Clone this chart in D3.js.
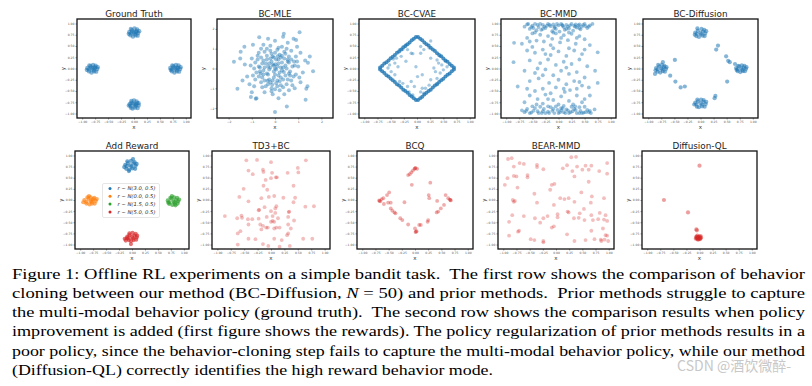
<!DOCTYPE html>
<html>
<head>
<meta charset="utf-8">
<script src="https://cdn.jsdelivr.net/npm/d3@7"></script>
<style>
  body { margin: 0; background: #fff; }
  svg { display: block; }
</style>
</head>
<body>
<div id="chart"></div>
<script>
// ---- tick labels ----
const unitTicks = [-1, -0.75, -0.5, -0.25, 0, 0.25, 0.5, 0.75, 1];
const mleTicks = [-2, -1, 0, 1, 2];

// ---- row 1: behavior cloning ----
const groundTruth = [
  [0.00,0.80],[0.05,0.83],[-0.04,0.85],[-0.06,0.78],[0.03,0.74],[0.08,0.79],[-0.09,0.81],[0.01,0.89],[-0.02,0.71],[0.06,0.87],[-0.07,0.74],[0.07,0.73],[-0.06,0.88],[0.10,0.83],[-0.10,0.77],[0.02,0.77],[-0.03,0.82],[0.04,0.81],
  [0.01,-0.80],[0.06,-0.77],[-0.05,-0.76],[-0.07,-0.83],[0.02,-0.87],[0.09,-0.82],[-0.08,-0.79],[0.00,-0.71],[-0.03,-0.89],[0.05,-0.73],[-0.06,-0.87],[0.07,-0.88],[-0.05,-0.72],[0.09,-0.77],[-0.10,-0.82],[0.03,-0.83],[-0.02,-0.78],[0.04,-0.80],
  [-0.80,0.00],[-0.75,0.03],[-0.84,0.05],[-0.87,-0.02],[-0.77,-0.06],[-0.71,-0.01],[-0.90,0.01],[-0.79,0.08],[-0.82,-0.09],[-0.74,0.06],[-0.87,-0.06],[-0.73,-0.07],[-0.86,0.07],[-0.70,0.03],[-0.91,-0.03],[-0.78,-0.03],[-0.83,0.02],[-0.76,0.01],
  [0.80,0.00],[0.85,0.02],[0.76,0.05],[0.73,-0.02],[0.83,-0.06],[0.89,-0.01],[0.70,0.01],[0.81,0.08],[0.78,-0.09],[0.86,0.07],[0.73,-0.06],[0.87,-0.07],[0.74,0.07],[0.90,0.03],[0.71,-0.03],[0.82,-0.03],[0.77,0.02],[0.84,0.01]
];

const bcMle = [
  [-1.77,0.34],[1.06,1.83],[0.38,1.75],[-0.68,1.58],[0,-2.2],[0.51,-1.92],[1.32,-1.58],[-1.62,-1.02],[1.64,-0.14],[1.42,0.29],[-1.48,0.85],[-1.32,1.10],[-1.04,-1.44],[-0.83,-1.53],[0.91,1.44],[1.35,-1.02],
  [-0.1,0.2],[0.3,-0.1],[-0.5,0.4],[0.6,0.3],[0.1,-0.6],[-0.3,-0.3],[0.8,-0.4],[-0.8,-0.2],[0.2,0.7],[-0.2,0.9],[0.5,-0.8],[-0.6,-0.7],[1.0,0.1],[-1.0,0.5],[0.0,0.0],[0.4,0.5],[-0.4,-0.9],[0.7,0.9],[-0.7,0.8],[0.2,-1.1],[-0.1,-1.3],[1.1,-0.7],[-1.2,-0.4],[0.9,0.6],[-0.9,-0.9],[0.3,1.1],[-0.5,1.2],[1.3,0.4],[-1.3,0.2],[0.05,0.45],[-0.25,-0.05],[0.45,-0.35],[-0.65,0.05],[0.15,0.25],[-0.05,-0.45],[0.65,-0.15],[-0.35,0.65],[0.35,-0.55],[-0.15,0.35],[0.85,-1.0],[-0.85,0.3],[0.55,1.3],[-0.45,-1.2],[1.2,-0.2],[-1.1,-0.8],[0.0,1.4],[0.25,-0.85],[-0.55,-0.45],[0.75,0.1],[-0.75,0.45],[0.1,0.95],[-0.2,-0.7],[0.6,0.6],[-0.6,1.0],[0.4,-1.3],[-0.3,1.5],[1.4,-0.9],[-1.4,-0.6],[0.95,1.1],[-0.95,1.2],[0.15,-1.5],[-0.15,-1.0],[0.5,0.0],[-0.5,-0.1],[0.0,-0.3],[0.3,0.3],[-0.3,0.1],[0.2,-0.2],[-0.1,0.6],[0.7,-0.6],[-0.7,-0.4],[1.1,0.8],[-1.0,-1.2],[0.4,0.85],[-0.4,0.25],[0.9,-0.3],[-0.9,0.0],[0.1,-0.9],[-0.2,1.15],[0.6,-1.1],[-0.8,-1.5],[1.5,0.6],[-1.5,0.5],[0.8,1.5],[0.35,1.6],
  [-0.2,0.5],[0.25,0.05],[-0.45,-0.6],[0.55,0.35],[-0.05,-0.15],[0.12,0.62],[-0.62,-0.25],[0.82,0.35],[-0.32,-0.62],[0.38,-0.18],[-0.12,-0.82],[0.02,0.22],
  [0.15,-0.35],[-0.35,0.45],[0.55,-0.55],[-0.15,0.75],[0.45,0.15],[-0.55,0.25],[0.25,0.55],[-0.25,-0.55],[0.05,-0.05],[-0.45,0.05],[0.35,0.05],[-0.05,0.15],[0.65,-0.35],[-0.65,-0.15],[0.15,0.45],[-0.35,-0.25],[0.05,-0.75],[-0.05,0.55],[0.85,0.15],[-0.85,-0.55],[0.45,0.75],[-0.45,0.85],[0.25,-0.45],[-0.25,0.25],[0.75,-0.85],[-0.75,0.65],[0.55,0.45],[-0.55,-0.95],[0.15,1.05],[-0.15,-1.15],[1.05,-0.45],[-1.05,0.15],[0.35,-0.95],[-0.35,1.0],[0.95,0.35],[-0.95,-0.35],[0.6,-0.25],[-0.6,0.55],[0.1,0.1],[-0.1,-0.6],[0.3,0.65],[-0.3,-0.8],[0.7,0.45],[-0.7,0.1],[0.2,-0.65],[-0.2,0.05],[0.5,1.0],[-0.5,-0.3],[0.0,0.8],[0.0,-1.05]
];

const bcCvaeEdge = [
  [-0.70,0.02],[-0.66,0.06],[-0.62,0.11],[-0.58,0.14],[-0.54,0.18],[-0.50,0.23],[-0.46,0.26],[-0.42,0.30],[-0.38,0.35],[-0.34,0.38],[-0.30,0.42],[-0.26,0.47],[-0.22,0.50],[-0.18,0.54],[-0.14,0.58],[-0.10,0.63],[-0.06,0.66],[-0.02,0.70],
  [0.02,0.70],[0.06,0.66],[0.10,0.63],[0.14,0.58],[0.18,0.54],[0.22,0.51],[0.26,0.46],[0.30,0.42],[0.34,0.39],[0.38,0.34],[0.42,0.30],[0.46,0.27],[0.50,0.22],[0.54,0.18],[0.58,0.15],[0.62,0.10],[0.66,0.06],[0.70,0.02],
  [0.70,-0.02],[0.66,-0.06],[0.62,-0.11],[0.58,-0.14],[0.54,-0.18],[0.50,-0.23],[0.46,-0.26],[0.42,-0.30],[0.38,-0.35],[0.34,-0.38],[0.30,-0.42],[0.26,-0.47],[0.22,-0.50],[0.18,-0.54],[0.14,-0.58],[0.10,-0.63],[0.06,-0.66],[0.02,-0.70],
  [-0.02,-0.70],[-0.06,-0.66],[-0.10,-0.62],[-0.14,-0.59],[-0.18,-0.54],[-0.22,-0.50],[-0.26,-0.47],[-0.30,-0.42],[-0.34,-0.38],[-0.38,-0.35],[-0.42,-0.30],[-0.46,-0.26],[-0.50,-0.22],[-0.54,-0.18],[-0.58,-0.15],[-0.62,-0.10],[-0.66,-0.06],[-0.70,-0.02]
];
const bcCvaeInner = [
  [-0.45,0.21],[-0.39,0.23],[-0.30,0.27],[-0.27,0.42],[-0.18,0.42],[-0.11,0.34],[-0.08,0.33],[0.07,0.34],[0.13,0.42],[0.23,0.46],[0.26,0.23],[0.38,0.19],[0.41,0.12],[0.47,0.08],[0.50,-0.03],[0.44,-0.10],[0.38,-0.22],[0.26,-0.25],[0.23,-0.37],[0.16,-0.44],[0.07,-0.52],[0.10,-0.14],[0.01,-0.18],[-0.02,0.04],[-0.11,-0.29],[-0.18,-0.40],[-0.27,-0.33],[-0.33,-0.29],[-0.42,-0.14],[-0.49,-0.07],[-0.52,0.08],[-0.42,0.12],[-0.36,0.04],[-0.55,0.01],[-0.21,0.16],[-0.15,-0.52],[-0.05,-0.40],[0.32,0.01],[0.35,-0.07],[0.57,0.04],[0.54,0.16],[0.26,0.61],[0.07,0.49],[-0.21,0.53],[-0.33,0.42],[0.13,-0.55],[0.10,-0.44],[-0.08,-0.59],[0.38,-0.33],[0.44,0.27]
];

const bcMmd = [
  [-0.6,0.98],[-0.5,0.95],[-0.45,0.99],[-0.38,0.92],[-0.3,0.97],[-0.25,0.90],[-0.2,0.99],[-0.15,0.94],[-0.1,0.98],[-0.05,0.88],[0.0,0.96],[0.05,0.99],[0.1,0.92],[0.15,0.97],[0.2,0.89],[0.25,0.99],[0.3,0.95],[0.35,0.91],[0.4,0.98],[0.45,0.93],[0.5,0.99],[0.55,0.9],[0.6,0.96],[-0.55,0.88],[-0.42,0.85],[-0.33,0.86],[-0.12,0.83],[0.02,0.82],[0.12,0.86],[0.28,0.84],[0.42,0.87],[-0.65,0.93],[-0.22,0.95],[-0.07,0.93],[0.08,0.95],[0.18,0.93],[0.33,0.98],[0.52,0.94],[-0.48,0.9],[0.65,0.99],
  [-0.58,0.99],[-0.52,0.92],[-0.4,0.97],[-0.35,0.99],[-0.27,0.93],[-0.17,0.97],[-0.03,0.99],[0.07,0.97],[0.22,0.96],[0.32,0.93],[0.38,0.96],[0.47,0.97],[0.58,0.93],[-0.08,0.9],[0.15,0.88],[0.4,0.9],[-0.3,0.88],[-0.45,0.8],[0.2,0.8],[-0.1,0.8],
  [-0.5,0.78],[-0.35,0.75],[-0.2,0.72],[-0.05,0.78],[0.1,0.74],[0.25,0.77],[0.4,0.72],[-0.6,0.68],[-0.42,0.62],[-0.28,0.6],[-0.12,0.66],[0.03,0.58],[0.18,0.63],[0.33,0.55],[0.5,0.65],[0.6,0.52],[-0.15,0.52],[0.05,0.68],[-0.7,0.55],[-0.55,0.6],[0.35,0.68],
  [-0.6,0.4],[-0.45,0.35],[-0.3,0.42],[-0.15,0.3],[0.0,0.38],[0.15,0.28],[0.3,0.4],[0.45,0.32],[-0.55,0.18],[-0.35,0.12],[-0.2,0.2],[-0.05,0.08],[0.1,0.15],[0.25,0.1],[0.4,0.2],[0.55,0.05],[-0.65,-0.05],[-0.45,-0.1],[-0.25,-0.02],[-0.1,-0.15],[0.05,-0.05],[0.2,-0.12],[0.35,-0.08],[0.5,-0.2],[-0.55,-0.28],[-0.38,-0.22],[-0.18,-0.32],[0.0,-0.25],[0.15,-0.35],[0.3,-0.28],[0.45,-0.38],[-0.6,-0.45],[-0.3,-0.45],[-0.05,-0.42],[0.22,-0.48],[0.58,-0.42],[-0.1,0.45],[0.35,-0.45],
  [-0.5,0.48],[-0.25,0.32],[0.2,0.45],[0.5,0.42],[-0.4,0.0],[0.15,0.02],[-0.3,-0.15],[0.4,-0.3],[-0.45,-0.5],[0.1,-0.45],
  [-0.55,-0.6],[-0.4,-0.68],[-0.25,-0.58],[-0.1,-0.7],[0.05,-0.62],[0.2,-0.72],[0.35,-0.6],[0.5,-0.68],[-0.65,-0.75],[-0.3,-0.78],[0.0,-0.8],[0.28,-0.8],[0.6,-0.6],[-0.15,-0.55],[0.12,-0.52],[-0.2,-0.68],[0.45,-0.75],
  [-0.65,-0.97],[-0.6,-0.9],[-0.52,-0.98],[-0.45,-0.88],[-0.4,-0.95],[-0.32,-0.99],[-0.28,-0.9],[-0.2,-0.96],[-0.15,-0.86],[-0.08,-0.99],[-0.02,-0.92],[0.03,-0.97],[0.08,-0.88],[0.13,-0.99],[0.18,-0.93],[0.23,-0.97],[0.3,-0.9],[0.35,-0.99],[0.42,-0.94],[0.48,-0.98],[0.55,-0.92],[0.62,-0.99],[-0.7,-0.93],[-0.5,-0.84],[-0.35,-0.85],[-0.05,-0.84],[0.1,-0.83],[0.25,-0.85],[0.4,-0.86],[0.58,-0.97],[-0.25,-0.99],[0.0,-0.99],[0.45,-0.99],[-0.12,-0.94],[0.2,-0.99],
  [-0.62,-0.94],[-0.55,-0.99],[-0.48,-0.94],[-0.38,-0.99],[-0.3,-0.95],[-0.18,-0.99],[-0.1,-0.9],[0.05,-0.93],[0.1,-0.97],[0.15,-0.91],[0.27,-0.95],[0.33,-0.92],[0.4,-0.99],[0.52,-0.97],[0.6,-0.94],[-0.42,-0.8],[-0.2,-0.84],[0.05,-0.88],[0.32,-0.84],[0.5,-0.85],
  [-0.85,0.57],[-0.86,0.14],[-0.78,-0.40],[0.75,0.36],[0.70,-0.05],[0.75,-0.32],[0.69,-0.91]
];

const bcDiffusion = [
  [0.00,0.79],[0.05,0.82],[-0.05,0.84],[-0.07,0.77],[0.04,0.73],[0.09,0.78],[-0.10,0.80],[0.02,0.88],[-0.03,0.70],[0.07,0.86],[-0.08,0.72],[0.08,0.72],[-0.06,0.89],[0.11,0.83],[-0.11,0.75],[0.01,0.76],
  [0.00,-0.77],[0.06,-0.74],[-0.05,-0.73],[-0.08,-0.80],[0.03,-0.84],[0.10,-0.79],[-0.10,-0.76],[0.01,-0.69],[-0.03,-0.86],[0.06,-0.70],[-0.07,-0.85],[0.08,-0.85],[-0.06,-0.69],[0.11,-0.74],[-0.12,-0.80],[0.03,-0.80],
  [-0.75,0.00],[-0.70,0.03],[-0.79,0.05],[-0.82,-0.02],[-0.72,-0.06],[-0.66,-0.01],[-0.85,0.01],[-0.74,0.08],[-0.77,-0.09],[-0.69,0.06],[-0.82,-0.07],[-0.68,-0.07],[-0.81,0.08],[-0.65,0.03],[-0.86,-0.04],[-0.73,-0.02],
  [0.78,0.00],[0.83,0.02],[0.74,0.05],[0.71,-0.02],[0.81,-0.06],[0.87,-0.01],[0.68,0.01],[0.79,0.07],[0.76,-0.08],[0.84,0.06],[0.71,-0.06],[0.85,-0.06],[0.72,0.06],[0.88,0.03],[0.69,-0.03],[0.80,-0.03],
  [0.335,0.51],[0.30,0.42],[0.49,0.27],[0.53,0.17],[0.56,0.14],[0.66,0.10],[0.51,-0.29],[0.285,-0.61],[0.27,-0.66],[-0.49,0.19],[-0.58,-0.16],[-0.48,-0.29],[-0.38,-0.42],[-0.30,-0.40],[-0.72,0.14],[-0.87,-0.12]
];

// ---- row 2: with reward ----
const rewardLabels = ["r \u223C N(3.0, 0.5)", "r \u223C N(0.0, 0.5)", "r \u223C N(1.5, 0.5)", "r \u223C N(5.0, 0.5)"];
const rewardTop = [[-0.03,0.78],[0.03,0.82],[-0.08,0.83],[-0.10,0.76],[0.01,0.71],[0.07,0.77],[-0.13,0.79],[-0.02,0.88],[-0.05,0.68],[0.05,0.85],[-0.11,0.70],[0.06,0.70],[-0.09,0.87],[0.09,0.81],[-0.15,0.74],[-0.01,0.75],[0.02,0.92],[-0.06,0.65]];
const rewardLeft = [[-0.80,-0.02],[-0.75,0.02],[-0.84,0.03],[-0.88,-0.04],[-0.77,-0.08],[-0.70,-0.02],[-0.92,0.00],[-0.80,0.06],[-0.82,-0.10],[-0.73,0.05],[-0.88,-0.08],[-0.72,-0.08],[-0.86,0.06],[-0.68,0.02],[-0.94,-0.05],[-0.78,-0.04],[-0.83,0.09],[-0.76,0.00]];
const rewardRight = [[0.80,-0.03],[0.85,0.00],[0.76,0.03],[0.72,-0.05],[0.83,-0.09],[0.89,-0.03],[0.69,-0.01],[0.81,0.06],[0.78,-0.11],[0.87,0.05],[0.72,-0.09],[0.88,-0.08],[0.74,0.05],[0.91,0.01],[0.70,-0.06],[0.82,-0.05],[0.77,0.09],[0.84,-0.12]];
const rewardBottom = [[0.00,-0.83],[0.05,-0.80],[-0.05,-0.79],[-0.07,-0.86],[0.03,-0.90],[0.09,-0.84],[-0.09,-0.82],[0.01,-0.74],[-0.02,-0.92],[0.07,-0.76],[-0.06,-0.90],[0.08,-0.89],[-0.05,-0.75],[0.10,-0.80],[-0.10,-0.86],[0.02,-0.86],[-0.14,-0.87],[-0.02,-0.99],[-0.12,-0.91]];

const td3bc = [
  [0.65,0.89],[-0.46,0.89],[-0.26,0.90],[0.00,0.85],[-0.42,0.66],[-0.34,0.58],[-0.15,0.68],[-0.14,0.63],[0.02,0.61],[0.31,0.61],[0.50,0.72],[0.51,0.62],[0.09,0.51],[0.11,0.51],[0.0,0.49],[-0.10,0.45],[-0.14,0.32],[-0.51,0.25],[-0.07,0.23],[0.42,0.32],
  [-0.59,0.07],[-0.42,-0.03],[-0.18,0.04],[-0.04,0.07],[0.06,0.09],[0.23,0.05],[0.45,0.05],[0.42,-0.05],[0.64,-0.15],[0.80,-0.14],[-0.23,-0.23],[-0.22,-0.22],[-0.12,-0.16],[0,-0.25],[0.08,-0.19],[0.08,-0.29],[0.33,-0.27],[0.34,-0.26],[0.10,-0.14],
  [-0.86,-0.36],[-0.63,-0.41],[-0.55,-0.35],[-0.54,-0.40],[-0.43,-0.43],[-0.35,-0.43],[-0.23,-0.42],[-0.08,-0.38],[0.03,-0.36],[0.03,-0.47],[0.06,-0.49],[0,-0.49],[0.13,-0.41],[0.32,-0.38],[0.43,-0.46],
  [-0.42,-0.55],[-0.20,-0.55],[-0.06,-0.62],[-0.09,-0.62],[0.06,-0.64],[0.10,-0.62],[0.16,-0.62],[0.37,-0.64],[-0.15,-0.58],[-0.57,-0.70],[-0.62,-0.75],[-0.18,-0.66],[0.30,-0.79],[0.32,-0.75],[0.32,-0.55],
  [-0.42,-0.87],[-0.29,-0.88],[0.06,-0.87],[0.20,-0.90],[0.60,-0.87],[0.77,-0.87],[-0.62,-1.00],[-0.15,-0.99],[-0.05,-1.03],[0.16,-1.05],[0.35,-1.03]
];

const bcq = [
  [0.0,0.71],[0.04,0.70],[0.01,0.72],[-0.01,0.70],[-0.04,0.66],[-0.07,0.62],[-0.10,0.58],[-0.13,0.56],[-0.06,0.34],[0.29,0.39],
  [-0.49,0.17],[-0.53,0.11],[-0.60,0.04],[-0.63,0.02],[-0.67,-0.02],[-0.68,-0.01],[-0.66,-0.03],[-0.59,-0.09],[-0.51,-0.06],[-0.46,-0.06],
  [-0.46,-0.19],[-0.43,-0.24],[-0.39,-0.28],[-0.37,-0.30],[-0.28,-0.41],[-0.24,-0.45],[-0.20,-0.05],
  [0.26,0.11],[0.27,0.04],[0.42,-0.02],[0.41,-0.28],[0.44,-0.26],[0.58,0.11],[0.63,0.04],[0.67,0.0],[0.66,0.01],[0.68,-0.01],[0.55,-0.11],[0.49,-0.19],
  [0.25,-0.45],[0.24,-0.49],[0.08,-0.56],[0.11,-0.56],[-0.13,-0.55],[0.0,-0.64],[0.02,-0.71],[0.01,-0.72],[0.03,-0.70]
];

const bearMmd = [
  [-0.91,0.92],[-0.84,0.94],[-0.80,0.75],[-0.69,0.83],[-0.61,0.81],[-0.36,0.79],[-0.36,0.74],[-0.24,0.69],[0.13,0.71],[0.21,0.78],[0.29,0.96],[0.38,0.97],[0.31,0.65],[0.40,0.75],[0.50,0.68],[0.56,0.77],[0.62,0.68],[0.67,0.77],[0.97,0.83],[0.97,0.59],[0.82,0.65],
  [-0.92,0.49],[-0.80,0.54],[-0.75,0.53],[-0.54,0.56],[-0.54,0.51],[-0.97,0.34],[-0.73,0.28],[-0.08,0.34],[-0.03,0.36],[-0.11,0.23],[0.35,0.53],[0.62,0.41],[0.48,0.17],
  [-0.82,0.0],[-0.78,-0.02],[-0.80,-0.04],[-0.41,0.14],[-0.36,-0.06],[-0.04,-0.11],[0.08,0.04],[0.16,0.02],[0.24,0.04],[0.35,-0.04],[0.66,-0.06],[0.68,0.08],[0.91,0.04],[0.53,-0.20],
  [-0.83,-0.34],[-0.89,-0.49],[-0.61,-0.36],[-0.40,-0.41],[-0.24,-0.41],[-0.16,-0.36],[0.03,-0.32],[0.03,-0.39],[0.22,-0.26],[0.24,-0.28],[0.45,-0.30],[0.43,-0.40],[0.54,-0.45],[0.67,-0.34],[0.70,-0.45],[0.83,-0.29],[0.94,-0.34],[0.97,-0.47],[0.91,-0.44],[0.34,-0.41],[0.80,-0.43],
  [-0.30,-0.51],[-0.08,-0.62],[-0.04,-0.59],[-0.89,-0.80],[-0.72,-0.71],[-0.70,-0.69],[-0.48,-0.88],[-0.41,-0.90],[-0.24,-0.92],[-0.24,-0.95],[0.21,-0.77],[0.35,-0.92],[0.56,-0.90],[0.67,-0.69],[0.73,-0.88],[0.85,-0.89],[0.86,-0.92],[0.94,-0.79],[0.97,-0.80],[0.92,-0.89],[0.99,-0.92],[0.89,-0.64]
];

const diffusionQl = [
  [0.0,0.77],[-0.68,0.0],[-0.22,-0.28],[-0.06,-0.66],[-0.05,-0.68],
  [-0.03,-0.84],[0.0,-0.82],[-0.05,-0.86],[-0.02,-0.88],[0.01,-0.85],[-0.06,-0.82],[-0.04,-0.80],[0.02,-0.81],[-0.03,-0.89],[-0.07,-0.87],[0.0,-0.87],[-0.01,-0.83],[0.03,-0.84],
  [-0.05,-0.83],[-0.02,-0.85],[0.01,-0.88],[-0.04,-0.87],[0.02,-0.86],[-0.06,-0.85]
];

const captionLines = [
  "Figure 1: Offline RL experiments on a simple bandit task.  The first row shows the comparison of behavior",
  "cloning between our method (BC-Diffusion, N = 50) and prior methods.  Prior methods struggle to capture",
  "the multi-modal behavior policy (ground truth).  The second row shows the comparison results when policy",
  "improvement is added (first figure shows the rewards). The policy regularization of prior methods results in a",
  "poor policy, since the behavior-cloning step fails to capture the multi-modal behavior policy, while our method",
  "(Diffusion-QL) correctly identifies the high reward behavior mode."
];

// ---- drawing ----
const BLUE = "#1f77b4", ORANGE = "#ff7f0e", GREEN = "#2ca02c", RED = "#d62728";
const width = 812, height = 386;

const svg = d3.select("#chart").append("svg")
  .attr("width", width)
  .attr("height", height)
  .style("font-family", "'DejaVu Sans', sans-serif");

svg.append("rect").attr("width", width).attr("height", height).attr("fill", "#fff");

function drawPanel(p) {
  const w = p.box[1] - p.box[0];
  const h = p.box[3] - p.box[2];
  const g = svg.append("g").attr("transform", `translate(${p.box[0]},${p.box[2]})`);
  const dom = p.domain || [-1.1, 1.1];
  const ticks = p.ticks || unitTicks;
  const fmt = p.fmt || d3.format(".2f");

  const x = d3.scaleLinear().domain(dom).range([0, w]);
  const y = d3.scaleLinear().domain(dom).range([h, 0]);

  const xAxis = g.append("g")
    .attr("transform", `translate(0,${h})`)
    .call(d3.axisBottom(x).tickValues(ticks).tickFormat(fmt).tickSize(1.5).tickPadding(1.2));
  const yAxis = g.append("g")
    .call(d3.axisLeft(y).tickValues(ticks).tickFormat(fmt).tickSize(1.5).tickPadding(1.2));
  [xAxis, yAxis].forEach(a => {
    a.select(".domain").remove();
    a.attr("font-size", 3).attr("font-family", "'DejaVu Sans', sans-serif");
    a.selectAll("line").attr("stroke", "#333").attr("stroke-width", 0.5);
    a.selectAll("text").attr("fill", "#555");
  });

  p.layers.forEach(layer => {
    g.append("g").selectAll("circle")
      .data(layer.data)
      .enter()
      .append("circle")
      .attr("cx", d => x(d[0]))
      .attr("cy", d => y(d[1]))
      .attr("r", layer.r || 1.6)
      .attr("fill", layer.color)
      .attr("fill-opacity", layer.opacity || 0.4);
  });

  g.append("rect")
    .attr("width", w).attr("height", h)
    .attr("fill", "none").attr("stroke", "#111").attr("stroke-width", 1.3);

  g.append("text")
    .attr("x", w / 2).attr("y", -2.5)
    .attr("text-anchor", "middle")
    .attr("font-size", 8.8)
    .attr("fill", "#222")
    .text(p.title);
  g.append("text")
    .attr("x", w / 2).attr("y", h + 11)
    .attr("text-anchor", "middle")
    .attr("font-size", 5.5)
    .attr("fill", "#333")
    .text("x");
  g.append("text")
    .attr("transform", `translate(-12.5,${h / 2}) rotate(-90)`)
    .attr("text-anchor", "middle")
    .attr("font-size", 5.5)
    .attr("fill", "#333")
    .text("y");

  return { g, w, h };
}

const row1 = [19, 118];
const row2 = [151, 249];

drawPanel({ title: "Ground Truth", box: [77, 191, ...row1], layers: [{ data: groundTruth, color: BLUE, opacity: 0.55, r: 2.2 }] });
drawPanel({ title: "BC-MLE", box: [217, 333, ...row1], domain: [-2.5, 2.5], ticks: mleTicks, fmt: d3.format("d"),
  layers: [{ data: bcMle, color: BLUE, opacity: 0.45, r: 2.0 }] });
drawPanel({ title: "BC-CVAE", box: [359, 475, ...row1],
  layers: [{ data: bcCvaeInner, color: BLUE, opacity: 0.4, r: 1.7 }, { data: bcCvaeEdge, color: BLUE, opacity: 0.8, r: 2.0 }] });
drawPanel({ title: "BC-MMD", box: [501, 616, ...row1], layers: [{ data: bcMmd, color: BLUE, opacity: 0.45, r: 1.9 }] });
drawPanel({ title: "BC-Diffusion", box: [643, 758, ...row1], layers: [{ data: bcDiffusion, color: BLUE, opacity: 0.55, r: 2.1 }] });

const reward = drawPanel({ title: "Add Reward", box: [75, 189, ...row2], layers: [
  { data: rewardTop, color: BLUE, opacity: 0.65, r: 2.1 },
  { data: rewardLeft, color: ORANGE, opacity: 0.65, r: 2.1 },
  { data: rewardRight, color: GREEN, opacity: 0.65, r: 2.1 },
  { data: rewardBottom, color: RED, opacity: 0.65, r: 2.1 }
] });
drawPanel({ title: "TD3+BC", box: [212, 330, ...row2], layers: [{ data: td3bc, color: RED, opacity: 0.3, r: 1.9 }] });
drawPanel({ title: "BCQ", box: [357, 473, ...row2], layers: [{ data: bcq, color: RED, opacity: 0.38, r: 1.9 }] });
drawPanel({ title: "BEAR-MMD", box: [498, 614, ...row2], layers: [{ data: bearMmd, color: RED, opacity: 0.3, r: 1.9 }] });
drawPanel({ title: "Diffusion-QL", box: [642, 757, ...row2], layers: [{ data: diffusionQl, color: RED, opacity: 0.45, r: 2.1 }] });

// legend for the reward panel
const legendColors = [BLUE, ORANGE, GREEN, RED];
const legend = reward.g.append("g").attr("transform", "translate(27.5,32.5)");
legend.append("rect")
  .attr("width", 57).attr("height", 34).attr("rx", 1.5)
  .attr("fill", "#fff").attr("fill-opacity", 0.8)
  .attr("stroke", "#ccc").attr("stroke-width", 0.5);
const items = legend.selectAll(".item")
  .data(rewardLabels)
  .enter()
  .append("g")
  .attr("transform", (d, i) => `translate(0,${5 + i * 7.8})`);
items.append("circle").attr("cx", 7.5).attr("cy", 0).attr("r", 1.5)
  .attr("fill", (d, i) => legendColors[i]);
items.append("text").attr("x", 15).attr("y", 1.8)
  .attr("font-size", 5)
  .attr("textLength", 38)
  .attr("lengthAdjust", "spacingAndGlyphs")
  .attr("fill", "#222")
  .attr("font-style", "italic")
  .text(d => d);

// caption
const caption = svg.append("g")
  .attr("font-family", "'Liberation Serif', 'Times New Roman', serif")
  .attr("font-size", 14.4)
  .attr("fill", "#000");
const baselines = [278.5, 297.7, 317, 336.2, 355.5, 374.7];
const lineLengths = [793, 793, 793, 793, 793, 481];
captionLines.forEach((line, i) => {
  const t = caption.append("text")
    .attr("x", 12).attr("y", baselines[i])
    .attr("textLength", lineLengths[i])
    .attr("lengthAdjust", "spacingAndGlyphs")
    .attr("xml:space", "preserve");
  if (line.includes("N = 50")) {
    const parts = line.split("N = 50");
    t.append("tspan").text(parts[0]);
    t.append("tspan").attr("font-style", "italic").text("N");
    t.append("tspan").text(" = 50" + parts[1]);
  } else {
    t.text(line);
  }
});

svg.append("text")
  .attr("x", 791).attr("y", 371)
  .attr("text-anchor", "end")
  .attr("font-family", "'Noto Sans CJK SC', 'Noto Sans', sans-serif")
  .attr("font-size", 14)
  .attr("fill", "#c8c8c8")
  .text("CSDN @酒饮微醉-");
</script>
</body>
</html>
